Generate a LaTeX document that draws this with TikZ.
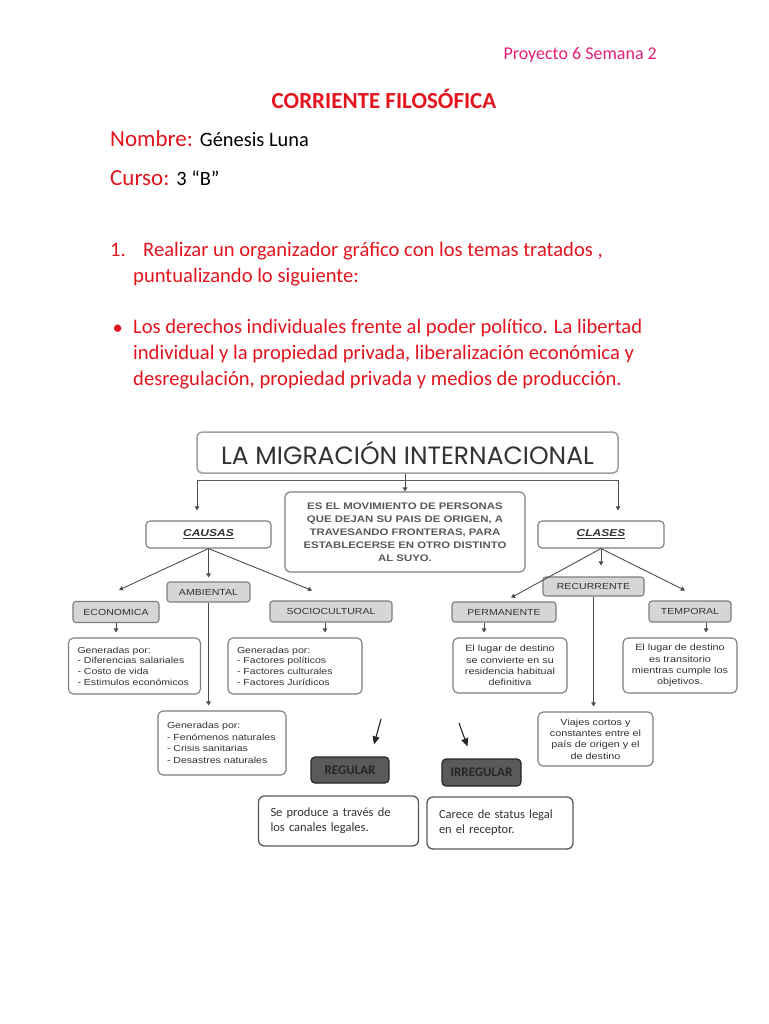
\documentclass[tikz,border=0pt]{standalone}
\usepackage{fontspec}
\setmainfont{Carlito}
\newfontfamily\diagfont[FakeStretch=1.2]{Liberation Sans}
\newfontfamily\titlefont{Poppins}
\usetikzlibrary{arrows.meta,positioning,calc}
\usepackage{xcolor}
\definecolor{hred}{RGB}{228,20,30}
\definecolor{hpink}{RGB}{226,30,120}
\definecolor{boxline}{RGB}{125,125,125}
\definecolor{headfill}{RGB}{214,214,214}
\definecolor{darkfill}{RGB}{90,90,90}
\newcommand{\fsz}[2]{\fontsize{#1}{#2}\selectfont}

\begin{document}
\begin{tikzpicture}[
  x=1pt, y=-1pt,
  font=\diagfont,
  box/.style={draw=boxline, rounded corners=5pt, line width=1.1pt, fill=white,
    align=center, inner sep=2pt, text=black!80},
  tag/.style={box, fill=headfill, rounded corners=3pt, font=\diagfont\fsz{8.8}{10}},
  note/.style={box, align=left, inner xsep=9pt, font=\diagfont\fsz{8.8}{10.7}},
  dark/.style={draw=black!85, fill=darkfill, rounded corners=4pt, line width=1.2pt,
    text=black!85, font=\bfseries\fsz{13}{15}},
  legal/.style={box, align=left, inner xsep=12pt, draw=black!65, line width=1.3pt,
    rounded corners=6pt, font=\fsz{12.5}{15}},
  hdr/.style={inner sep=0pt, text=hred},
  arrow/.style={-{Triangle[length=4pt,width=4.5pt]}, line width=0.9pt, draw=black!70},
  bigarrow/.style={-{Triangle[length=8pt,width=7pt]}, line width=1.1pt, draw=black!85},
  link/.style={line width=0.9pt, draw=black!65}
]
\useasboundingbox (0,0) rectangle (768,1024);

% page header
\node[hdr, text=hpink, anchor=base east, font=\fsz{18}{20}] (proj) at (657,60) {Proyecto 6 Semana 2};
\node[hdr, anchor=base, font=\bfseries\fsz{23}{26}] (head) at (384,108.5) {CORRIENTE FILOSÓFICA};
\node[hdr, anchor=base west, font=\fsz{23}{26}] (nom) at (110,146.5) {Nombre: \textcolor{black}{\fsz{20.4}{24}Génesis Luna}};
\node[hdr, anchor=base west, font=\fsz{23}{26}] (cur) at (110,185.5) {Curso: \textcolor{black}{\fsz{20.4}{24}3 “B”}};
\node[hdr, anchor=base west, font=\fsz{20.6}{26}, align=left] (task) at (110,282)
  {\makebox[33pt][l]{1.}Realizar un organizador gráfico con los temas tratados ,\\
   \hspace*{23pt}puntualizando lo siguiente:};
\node[hdr, anchor=base west, font=\fsz{20.6}{25.6}, align=left] (point) at (133,385)
  {Los derechos individuales frente al poder político. La libertad\\
   individual y la propiedad privada, liberalización económica y\\
   desregulación, propiedad privada y medios de producción.};
\node[hdr, anchor=base east, font=\fsz{20.6}{24}] (dot) at (123,334) {•};

% concept map
\node[box, minimum width=421, minimum height=41, line width=1.5pt, draw=gray!75,
  font=\titlefont\fsz{25}{28}] (title) at (407.5,452.5) {LA MIGRACIÓN INTERNACIONAL};
\node[box, minimum width=240, minimum height=80, font=\diagfont\bfseries\fsz{9.5}{13},
  text=black!65] (desc) at (405,532)
  {ES EL MOVIMIENTO DE PERSONAS\\QUE DEJAN SU PAIS DE ORIGEN, A\\TRAVESANDO FRONTERAS, PARA\\ESTABLECERSE EN OTRO DISTINTO\\AL SUYO.};
\node[box, minimum width=125, minimum height=27, rounded corners=4pt,
  font=\diagfont\bfseries\itshape\fsz{10}{11}] (causas) at (208.5,534.5) {\underline{CAUSAS}};
\node[box, minimum width=126, minimum height=27, rounded corners=4pt,
  font=\diagfont\bfseries\itshape\fsz{10}{11}] (clases) at (601,534.5) {\underline{CLASES}};

\node[tag, minimum width=83, minimum height=20] (amb) at (208.5,592) {AMBIENTAL};
\node[tag, minimum width=86, minimum height=21] (econ) at (116,612) {ECONOMICA};
\node[tag, minimum width=122, minimum height=21] (socio) at (331,611.5) {SOCIOCULTURAL};
\node[tag, minimum width=101, minimum height=19] (recur) at (593.5,586.5) {RECURRENTE};
\node[tag, minimum width=104, minimum height=20] (perm) at (504,612) {PERMANENTE};
\node[tag, minimum width=82, minimum height=21] (temp) at (690,611.5) {TEMPORAL};

\node[note, text width=114, minimum height=56] (econtxt) at (134.5,666)
  {Generadas por:\\- Diferencias salariales\\- Costo de vida\\- Estimulos económicos};
\node[note, text width=116, minimum height=56] (sociotxt) at (295,666)
  {Generadas por:\\- Factores políticos\\- Factores culturales\\- Factores Jurídicos};
\node[note, text width=110, minimum height=64, font=\diagfont\fsz{8.8}{11.5}] (ambtxt) at (222,743)
  {Generadas por:\\- Fenómenos naturales\\- Crisis sanitarias\\- Desastres naturales};
\node[box, minimum width=114, minimum height=55, font=\diagfont\fsz{9}{11.3}] (permtxt) at (510,665.5)
  {El lugar de destino\\se convierte en su\\residencia habitual\\definitiva};
\node[box, minimum width=114, minimum height=55, font=\diagfont\fsz{9}{11.3}] (temptxt) at (680,665.5)
  {El lugar de destino\\es transitorio\\mientras cumple los\\objetivos.};
\node[box, minimum width=115, minimum height=54, font=\diagfont\fsz{9}{11.3}] (viajes) at (595.5,739)
  {Viajes cortos y\\constantes entre el\\país de origen y el\\de destino};

\node[dark, minimum width=78, minimum height=26] (regular) at (350,770) {REGULAR};
\node[dark, minimum width=79, minimum height=27] (irregular) at (481.5,772.5) {IRREGULAR};
\node[legal, text width=136, minimum height=50] (regtxt) at (338.5,821)
  {Se produce a través de\\los canales legales.};
\node[legal, text width=122, minimum height=52] (irrtxt) at (500,823)
  {Carece de status legal\\en el receptor.};

% connectors
\coordinate (bl) at (197,480);
\coordinate (br) at (618,480);
\coordinate (regin) at (381,719);
\coordinate (irrin) at (459,723);

\draw[arrow] (desc.north |- title.south) -- (desc.north);
\draw[link] (bl) -- (br);
\draw[arrow, shorten >=10pt] (bl) -- (bl |- causas.north);
\draw[arrow, shorten >=10pt] (br) -- (br |- clases.north);

\draw[arrow] (causas.south) -- ($(econ.north)+(3,-11)$);
\draw[arrow, shorten >=4pt] (causas.south) -- (amb.north);
\draw[arrow] (causas.south) -- ($(socio.north)+(-19,-10)$);
\draw[arrow, shorten >=5pt] (econ.south) -- (econ.south |- econtxt.north);
\draw[arrow, shorten >=5pt] ($(socio.south)+(-6,0)$) -- ($(socio.south |- sociotxt.north)+(-6,0)$);
\draw[arrow, shorten >=5pt] (amb.south) -- (amb.south |- ambtxt.north);

\draw[arrow, shorten >=8pt] (clases.south) -- (perm.north);
\draw[arrow, shorten >=11pt] (clases.south) -- (clases.south |- recur.north);
\draw[arrow] (clases.south) -- ($(temp.north)+(-5,-10)$);
\draw[arrow, shorten >=5pt] ($(perm.south)+(-20,0)$) -- ($(perm.south |- permtxt.north)+(-20,0)$);
\draw[arrow, shorten >=5pt] ($(temp.south)+(16,0)$) -- ($(temp.south |- temptxt.north)+(16,0)$);
\draw[arrow, shorten >=5pt] (recur.south) -- (recur.south |- viajes.north);

\draw[bigarrow] (regin) -- ($(regular.north)+(24,-12)$);
\draw[bigarrow] (irrin) -- ($(irregular.north)+(-14,-12)$);

\end{tikzpicture}
\end{document}
